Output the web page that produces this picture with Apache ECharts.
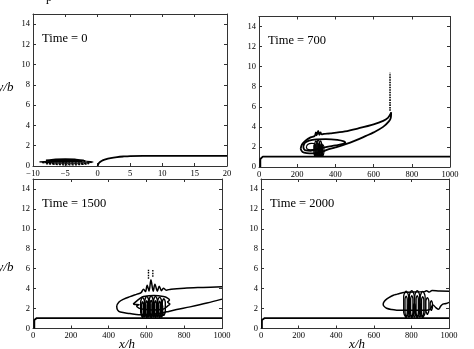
<!DOCTYPE html>
<html><head><meta charset="utf-8">
<script src="https://cdn.jsdelivr.net/npm/echarts@6/dist/echarts.min.js"></script>
<style>html,body{margin:0;padding:0;background:#fff}#c{width:474px;height:349px}</style>
</head><body><div id="c"></div>
<script>
// ---------- tick settings ----------
const yTicks = {min: 0, max: 15, interval: 2};
const xTicks1 = {min: -10, max: 20, interval: 5};
const xTicksN = {min: 0, max: 1000, interval: 200};
const timeLabels = ['Time = 0', 'Time = 700', 'Time = 1500', 'Time = 2000'];

// ---------- Panel 1 (Time = 0) ----------
const p1Wall = [[0,0],[0.2,0.3],[0.6,0.5],[1.2,0.65],[2,0.78],[3,0.88],[4,0.94],[5,0.98],[7,1],[20,1]];
const p1EddyA = [[-8,0.54],[-6.5,0.64],[-5,0.68],[-3.5,0.64],[-2,0.54],[-3.5,0.45],[-5,0.42],[-6.5,0.45],[-8,0.54]];
const p1EddyB = [[-6.8,0.54],[-5,0.61],[-3.2,0.54],[-5,0.48],[-6.8,0.54]];
const p1EddyC = [[-8.6,0.34],[-6.5,0.45],[-4.5,0.49],[-2.5,0.45],[-1,0.34],[-2.5,0.21],[-4.5,0.17],[-6.5,0.21],[-8.6,0.34]];
const p1EddyD = [[-8,0.22],[-4.5,0.32],[-1.4,0.22],[-4.5,0.1],[-8,0.22]];
const p1EddyE = [[-9,0.4],[-6.5,0.52],[-4.5,0.55],[-2.5,0.52],[-0.7,0.4],[-2.5,0.3],[-4.5,0.27],[-6.5,0.3],[-9,0.4]];

// ---------- Panel 2 (Time = 700) ----------
const p2Wall = [[7,0],[7,0.8],[10,0.97],[20,1.03],[1000,1.03]];
const p2Outer = [[218,1.8],[225,2.25],[245,2.65],[270,2.95],[292,3.1],[298,3.45],[302,3.15],[310,3.6],[316,3.2],[322,3.45],[328,3.25],[340,3.3],[372,3.35],[450,3.55],[520,3.85],[600,4.25],[650,4.6],[675,4.9],[686,5.2],[692,5.45],[690,4.9],[680,4.55],[650,4.0],[600,3.45],[560,3.1],[500,2.6],[450,2.25],[400,1.95],[355,1.7],[320,1.45],[285,1.35],[250,1.38],[228,1.5],[218,1.8]];
const p2Inner = [[232,2.05],[240,2.4],[262,2.62],[300,2.75],[350,2.78],[410,2.7],[445,2.55],[452,2.42],[440,2.3],[400,2.15],[350,1.98],[310,1.8],[270,1.62],[245,1.65],[235,1.8],[232,2.05]];
const p2Inner2 = [[248,2.0],[255,2.25],[275,2.35],[292,2.3],[292,1.75],[270,1.72],[252,1.8],[248,2.0]];
const p2Fingers = [
  [[292,1.05],[287,1.5],[287,2.1],[292,2.3],[297,2.1],[297,1.5],[292,1.05]],
  [[298,1.05],[292,1.5],[292,2.3],[298,2.6],[304,2.3],[304,1.5],[298,1.05]],
  [[304,1.05],[299,1.5],[299,2.2],[304,2.4],[309,2.2],[309,1.5],[304,1.05]],
  [[310,1.05],[304,1.5],[304,2.4],[310,2.7],[316,2.4],[316,1.5],[310,1.05]],
  [[316,1.05],[311,1.5],[311,2.2],[316,2.4],[321,2.2],[321,1.5],[316,1.05]],
  [[322,1.05],[316,1.5],[316,2.3],[322,2.6],[328,2.3],[328,1.5],[322,1.05]],
  [[328,1.05],[323,1.5],[323,2.1],[328,2.3],[333,2.1],[333,1.5],[328,1.05]],
  [[334,1.05],[328,1.5],[328,1.95],[334,2.2],[340,1.95],[340,1.5],[334,1.05]]
];
const p2Dots = [[686,5.6],[686,9.4]];

// ---------- Panel 3 (Time = 1500) ----------
const p3Wall = [[7,0],[7,0.85],[10,1.0],[20,1.05],[1000,1.05]];
const p3Outer = [[1000,4.18],[900,4.12],[800,4.05],[730,3.95],[705,3.85],[690,4.05],[680,3.8],[668,4.25],[658,3.75],[645,4.45],[636,3.75],[624,4.9],[614,3.75],[604,4.35],[595,3.7],[585,3.95],[572,3.6],[550,3.45],[513,3.2],[480,2.95],[455,2.65],[443,2.2],[448,1.85],[462,1.65],[513,1.5],[560,1.38],[620,1.4],[680,1.55],[707,1.67],[760,1.9],[831,2.17],[920,2.55],[1000,2.95]];
const p3Inner = [[530,2.45],[548,2.75],[568,3.05],[585,3.2],[640,3.3],[690,3.2],[712,3.05],[722,2.85],[712,2.65],[724,2.45],[712,2.25],[700,2.05],[680,1.9],[630,1.85],[585,1.92],[560,2.05],[548,2.25],[562,2.38],[538,2.42],[530,2.45]];
const p3Fingers = [
  [[580,1.08],[570,1.6],[570,2.7],[580,3.1],[590,2.7],[590,1.6],[580,1.08]],
  [[602,1.08],[592,1.6],[592,2.8],[602,3.22],[612,2.8],[612,1.6],[602,1.08]],
  [[625,1.08],[615,1.6],[615,2.85],[625,3.28],[635,2.85],[635,1.6],[625,1.08]],
  [[648,1.08],[638,1.6],[638,2.8],[648,3.22],[658,2.8],[658,1.6],[648,1.08]],
  [[670,1.08],[660,1.6],[660,2.75],[670,3.15],[680,2.75],[680,1.6],[670,1.08]],
  [[692,1.3],[684,1.7],[684,2.6],[692,3.0],[700,2.6],[700,1.7],[692,1.3]],
  [[580,1.1],[575,1.6],[575,2.4],[580,2.7],[585,2.4],[585,1.6],[580,1.1]],
  [[602,1.1],[597,1.6],[597,2.5],[602,2.8],[607,2.5],[607,1.6],[602,1.1]],
  [[625,1.1],[620,1.6],[620,2.55],[625,2.85],[630,2.55],[630,1.6],[625,1.1]],
  [[648,1.1],[643,1.6],[643,2.5],[648,2.8],[653,2.5],[653,1.6],[648,1.1]],
  [[670,1.1],[665,1.6],[665,2.45],[670,2.75],[675,2.45],[675,1.6],[670,1.1]],
  [[591,1.1],[586,1.5],[586,2.3],[591,2.55],[596,2.3],[596,1.5],[591,1.1]],
  [[613,1.1],[608,1.5],[608,2.35],[613,2.6],[618,2.35],[618,1.5],[613,1.1]],
  [[636,1.1],[631,1.5],[631,2.35],[636,2.6],[641,2.35],[641,1.5],[636,1.1]],
  [[659,1.1],[654,1.5],[654,2.3],[659,2.55],[664,2.3],[664,1.5],[659,1.1]],
  [[681,1.1],[676,1.5],[676,2.2],[681,2.45],[686,2.2],[686,1.5],[681,1.1]]
];
const p3DotsA = [[611,5.0],[611,5.9]];
const p3DotsB = [[634,5.2],[634,5.9]];

// ---------- Panel 4 (Time = 2000) ----------
const p4Wall = [[5,0],[5,0.85],[8,1.0],[20,1.05],[1000,1.05]];
const p4Outer = [[1000,3.75],[950,3.76],[910,3.82],[895,3.65],[880,3.8],[870,3.7],[760,3.62],[748,3.57],[725,3.45],[704,3.34],[680,3.1],[662,2.85],[652,2.6],[650,2.42],[655,2.22],[668,2.03],[695,1.9],[722,1.84],[750,1.82],[880,1.82],[900,1.95],[915,2.35],[930,2.1],[944,1.93],[956,2.25],[967,2.45],[985,2.5],[1000,2.62]];
const p4Fingers = [
  [[772,1.07],[759,1.6],[759,3.2],[772,3.75],[785,3.2],[785,1.6],[772,1.07]],
  [[802,1.07],[789,1.6],[789,3.25],[802,3.8],[815,3.25],[815,1.6],[802,1.07]],
  [[831,1.07],[818,1.6],[818,3.25],[831,3.8],[844,3.25],[844,1.6],[831,1.07]],
  [[860,1.07],[847,1.6],[847,3.18],[860,3.72],[873,3.18],[873,1.6],[860,1.07]],
  [[772,1.1],[766,1.6],[766,2.9],[772,3.25],[778,2.9],[778,1.6],[772,1.1]],
  [[802,1.1],[796,1.6],[796,2.95],[802,3.3],[808,2.95],[808,1.6],[802,1.1]],
  [[831,1.1],[825,1.6],[825,2.95],[831,3.3],[837,2.95],[837,1.6],[831,1.1]],
  [[860,1.1],[854,1.6],[854,2.85],[860,3.2],[866,2.85],[866,1.6],[860,1.1]],
  [[787,1.1],[782,1.4],[782,2.2],[787,2.5],[792,2.2],[792,1.4],[787,1.1]],
  [[816,1.1],[811,1.4],[811,2.2],[816,2.5],[821,2.2],[821,1.4],[816,1.1]],
  [[845,1.1],[840,1.4],[840,2.2],[845,2.5],[850,2.2],[850,1.4],[845,1.1]],
  [[885,1.4],[877,1.8],[877,2.7],[885,3.1],[893,2.7],[893,1.8],[885,1.4]],
  [[906,1.8],[900,2.1],[900,2.5],[906,2.8],[912,2.5],[912,2.1],[906,1.8]]
];

// ---------- build ----------
const FONT = '"Liberation Serif", "Times New Roman", serif';
const AX = '#333';
const grids = [
  {left:33, top:14, width:194, height:152},
  {left:259, top:16.5, width:191, height:150.5},
  {left:33, top:179, width:189, height:149.5},
  {left:261, top:179, width:188, height:149.5}
];
const xt = [xTicks1, xTicksN, xTicksN, xTicksN];
const fmt = v => v < 0 ? '\u2212' + Math.abs(v) : String(v);

const thick = 1.8, thin = 1.2;
const panelLines = [
  [ {d:p1Wall,w:thick}, {d:p1EddyA,w:thick}, {d:p1EddyB,w:thick}, {d:p1EddyE,w:thin}, {d:p1EddyC,w:thin,t:[2,1.2]}, {d:p1EddyD,w:thin,t:[2,1.2]} ],
  [ {d:p2Wall,w:thick,s:0}, {d:p2Outer,w:thick}, {d:p2Inner,w:thick}, {d:p2Inner2,w:thin}, {d:p2Dots,w:1.6,t:[1.5,1]} ]
    .concat(p2Fingers.map(f => ({d:f,w:1.2}))),
  [ {d:p3Wall,w:thick,s:0}, {d:p3Outer,w:1.5}, {d:p3Inner,w:1.5}, {d:p3DotsA,w:1.4,t:[1.5,1]}, {d:p3DotsB,w:1.4,t:[1.5,1]} ]
    .concat(p3Fingers.map(f => ({d:f,w:1.4}))),
  [ {d:p4Wall,w:thick,s:0}, {d:p4Outer,w:1.5} ]
    .concat(p4Fingers.map(f => ({d:f,w:1.3})))
];

const xAxis = [], yAxis = [], series = [], graphic = [];
grids.forEach((g, i) => {
  const axLine = {show:true, onZero:false, lineStyle:{color:AX, width:1}};
  const tick = {show:true, inside:true, length:3, lineStyle:{color:AX, width:1}};
  const lab = {show:true, fontFamily:FONT, fontSize:8.5, color:'#000', margin:3, formatter:fmt};
  xAxis.push({gridIndex:i, type:'value', position:'bottom', min:xt[i].min, max:xt[i].max, interval:xt[i].interval,
    axisLine:axLine, axisTick:tick, axisLabel:lab, splitLine:{show:false}});
  xAxis.push({gridIndex:i, type:'value', position:'top', min:xt[i].min, max:xt[i].max, interval:xt[i].interval,
    axisLine:axLine, axisTick:tick, axisLabel:{show:false}, splitLine:{show:false}});
  yAxis.push({gridIndex:i, type:'value', position:'left', min:yTicks.min, max:yTicks.max, interval:yTicks.interval,
    axisLine:axLine, axisTick:tick, axisLabel:Object.assign({}, lab, {showMaxLabel:false}), splitLine:{show:false}});
  yAxis.push({gridIndex:i, type:'value', position:'right', min:yTicks.min, max:yTicks.max, interval:yTicks.interval,
    axisLine:axLine, axisTick:tick, axisLabel:{show:false}, splitLine:{show:false}});
  panelLines[i].forEach(l => {
    series.push({type:'line', xAxisIndex:2*i, yAxisIndex:2*i, data:l.d, showSymbol:false, symbol:'none',
      smooth: l.s === undefined ? 0.35 : l.s, silent:true, animation:false,
      lineStyle:{color:'#000', width:l.w, type: l.t || 'solid'}});
  });
  graphic.push({type:'text', left:g.left + 9, top:g.top + 18,
    style:{text:timeLabels[i], font:'12.5px ' + FONT, fill:'#000'}});
});
graphic.push({type:'text', left:-2.5, top:81, style:{text:'y/b', font:'italic 13px ' + FONT, fill:'#000'}});
graphic.push({type:'text', left:-2.5, top:261, style:{text:'y/b', font:'italic 13px ' + FONT, fill:'#000'}});
graphic.push({type:'text', left:119, top:338, style:{text:'x/h', font:'italic 13px ' + FONT, fill:'#000'}});
graphic.push({type:'text', left:349, top:338, style:{text:'x/h', font:'italic 13px ' + FONT, fill:'#000'}});
graphic.push({type:'text', left:46, top:-8, style:{text:'p', font:'12px ' + FONT, fill:'#000'}});

const chart = echarts.init(document.getElementById('c'), null, {renderer:'canvas'});
chart.setOption({animation:false, backgroundColor:'#fff', grid:grids, xAxis, yAxis, series, graphic});
</script></body></html>
